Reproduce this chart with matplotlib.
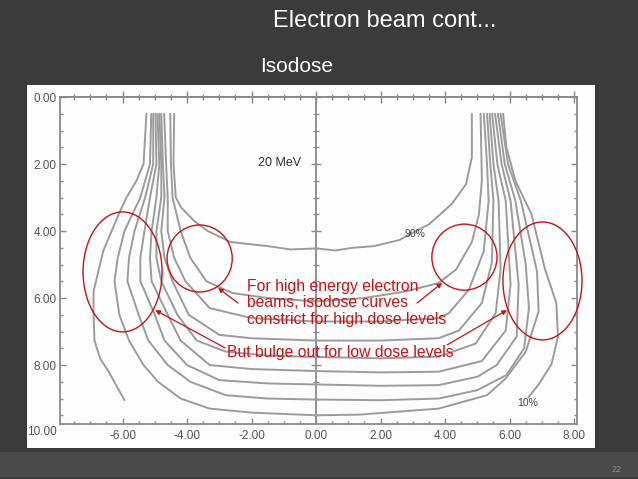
import matplotlib

matplotlib.use("Agg")
import matplotlib.pyplot as plt
from matplotlib.patches import Ellipse, Rectangle
from matplotlib.ticker import FormatStrFormatter, MultipleLocator

SLIDE_TITLE = "Electron beam cont..."
SLIDE_SUBTITLE = "Isodose"
PAGE_NUMBER = "22"
ENERGY_LABEL = "20 MeV"

X_TICKS = [-6, -4, -2, 0, 2, 4, 6, 8]
Y_TICKS = [0, 2, 4, 6, 8]
X_RANGE = (-7.94, 8.09)
Y_RANGE = (9.76, 0.0)

# isodose lines, (lateral position cm, depth cm), innermost (90%) first
CURVE_90 = [(-4.40, 0.5), (-4.42, 2.0), (-4.35, 3.0), (-4.18, 3.3), (-3.78, 3.7),
            (-3.36, 4.0), (-2.65, 4.33), (-1.5, 4.45), (-0.8, 4.55), (0.0, 4.52),
            (0.6, 4.58), (1.14, 4.5), (1.8, 4.45), (2.58, 4.27), (3.5, 3.8),
            (4.2, 3.2), (4.65, 2.6), (4.83, 1.8), (4.83, 0.5)]
CURVE_80 = [(-4.52, 0.5), (-4.5, 2.0), (-4.45, 3.0), (-4.2, 4.0), (-3.9, 4.8),
            (-3.4, 5.5), (-2.6, 5.85), (-1.5, 6.0), (0.0, 6.1), (1.5, 6.0),
            (2.8, 5.8), (3.8, 5.55), (4.34, 5.15), (4.83, 4.33), (5.05, 3.5),
            (5.14, 2.5), (5.1, 0.5)]
CURVE_70 = [(-4.71, 0.5), (-4.65, 2.0), (-4.6, 3.0), (-4.6, 4.0), (-4.4, 4.8),
            (-4.05, 5.5), (-3.3, 6.3), (-2.0, 6.6), (0.0, 6.7), (2.0, 6.7),
            (3.8, 6.6), (4.12, 6.45), (4.74, 5.75), (5.2, 4.6), (5.35, 3.1),
            (5.3, 2.0), (5.2, 0.5)]
CURVE_60 = [(-4.8, 0.5), (-4.75, 2.0), (-4.7, 3.0), (-4.8, 4.0), (-4.7, 4.8),
            (-4.45, 5.5), (-3.95, 6.5), (-3.0, 7.1), (-2.0, 7.2), (0.0, 7.27),
            (2.0, 7.27), (3.8, 7.2), (4.43, 6.97), (5.14, 6.15), (5.45, 4.94),
            (5.5, 3.1), (5.4, 2.0), (5.3, 0.5)]
CURVE_50 = [(-4.86, 0.5), (-4.8, 2.0), (-4.8, 3.0), (-4.95, 4.0), (-4.95, 4.8),
            (-4.8, 5.5), (-4.3, 6.5), (-3.7, 7.27), (-2.8, 7.6), (-1.5, 7.72),
            (0.0, 7.76), (2.0, 7.8), (3.8, 7.75), (4.95, 7.36), (5.57, 6.45),
            (5.72, 5.15), (5.66, 3.1), (5.5, 2.0), (5.38, 0.5)]
CURVE_40 = [(-4.92, 0.5), (-4.86, 2.0), (-4.95, 3.0), (-5.1, 4.0), (-5.15, 4.8),
            (-5.1, 5.5), (-4.6, 6.5), (-4.2, 7.27), (-3.3, 8.0), (-2.0, 8.12),
            (0.0, 8.18), (2.0, 8.22), (3.8, 8.2), (5.14, 7.88), (5.88, 6.97),
            (6.03, 5.6), (5.88, 3.1), (5.62, 2.0), (5.46, 0.5)]
CURVE_30 = [(-4.98, 0.5), (-4.95, 2.0), (-5.15, 3.0), (-5.32, 4.0), (-5.45, 4.8),
            (-5.45, 5.5), (-5.0, 6.5), (-4.7, 7.27), (-4.0, 8.0), (-3.0, 8.45),
            (-1.5, 8.55), (0.0, 8.58), (2.0, 8.62), (3.8, 8.6), (5.0, 8.35),
            (5.6, 8.0), (6.22, 7.15), (6.28, 5.6), (6.03, 3.1), (5.75, 2.0),
            (5.55, 0.5)]
CURVE_20 = [(-5.05, 0.5), (-5.05, 2.0), (-5.3, 3.0), (-5.63, 4.0), (-5.8, 4.8),
            (-5.85, 5.5), (-5.5, 6.5), (-5.2, 7.27), (-4.6, 8.0), (-3.9, 8.5),
            (-2.8, 8.9), (-1.5, 9.0), (0.0, 9.03), (2.0, 9.05), (3.8, 9.0),
            (5.0, 8.75), (5.9, 8.3), (6.45, 7.5), (6.6, 6.3), (6.5, 5.0),
            (6.18, 3.1), (5.85, 2.0), (5.64, 0.5)]
CURVE_15 = [(-5.11, 0.5), (-5.15, 2.0), (-5.45, 3.0), (-5.94, 4.0), (-6.15, 4.8),
            (-6.25, 5.5), (-6.1, 6.5), (-5.8, 7.27), (-5.35, 8.0), (-4.9, 8.5),
            (-4.2, 9.0), (-3.3, 9.3), (-2.0, 9.42), (0.0, 9.5), (1.35, 9.48),
            (3.8, 9.3), (5.3, 8.9), (5.88, 8.4), (6.5, 7.6), (6.9, 6.4),
            (6.85, 5.2), (6.35, 3.1), (5.95, 2.0), (5.72, 0.5)]
# the 10% line leaves the plot on both sides
CURVE_10_LEFT = [(-5.26, 0.5), (-5.35, 2.0), (-5.57, 2.5), (-5.88, 3.0), (-6.12, 3.5),
                 (-6.34, 4.0), (-6.6, 4.6), (-6.75, 5.2), (-6.9, 5.8), (-6.9, 6.5),
                 (-6.87, 7.27), (-6.7, 7.8), (-6.43, 8.2), (-5.94, 9.05)]
CURVE_10_RIGHT = [(5.8, 0.5), (5.9, 1.5), (6.18, 2.5), (6.68, 3.5), (7.1, 5.15),
                  (7.45, 6.15), (7.5, 7.15), (7.3, 7.97), (6.9, 8.58), (6.58, 8.97)]

CURVES = [CURVE_90, CURVE_80, CURVE_70, CURVE_60, CURVE_50, CURVE_40,
          CURVE_30, CURVE_20, CURVE_15, CURVE_10_LEFT, CURVE_10_RIGHT]

# red hand annotations on the slide: (x, depth, width, height)
CIRCLES = [(-6.0, 5.22, 2.45, 3.58), (-3.61, 4.82, 2.02, 2.0),
           (4.6, 4.78, 2.02, 1.97), (7.02, 5.49, 2.45, 3.52)]
ARROWS = [((-2.42, 6.15), (-3.04, 5.70)), ((3.13, 6.15), (3.91, 5.55)),
          ((-2.82, 7.49), (-4.99, 6.36)), ((4.06, 7.40), (5.92, 6.36))]
NOTE_HIGH = "For high energy electron\nbeams, isodose curves\nconstrict for high dose levels"
NOTE_LOW = "But bulge out for low dose levels"

BG = "#3b3b3b"
RED = "#c81414"
LINE_GRAY = "#9c9c9c"
AXIS_GRAY = "#8a8a8a"
LABEL_GRAY = "#555555"

plt.rcParams["font.family"] = ["Liberation Sans", "DejaVu Sans"]

W, H = 638, 479
fig = plt.figure(figsize=(W / 100, H / 100), dpi=100)
fig.patch.set_facecolor(BG)

# slide footer band and the white picture panel, behind the axes
fig.add_artist(Rectangle((0, 1 - 477 / H), 1, 25 / H, transform=fig.transFigure,
                         facecolor="#4a4a4a", edgecolor="none", zorder=-2))
fig.add_artist(Rectangle((27 / W, 1 - 448 / H), 568 / W, 363 / H,
                         transform=fig.transFigure, facecolor="#fdfdfd",
                         edgecolor="none", zorder=-1))

fig.text(273 / W, 1 - 27 / H, SLIDE_TITLE, color="white", fontsize=17, va="baseline")
fig.text(260 / W, 1 - 72 / H, SLIDE_SUBTITLE, color="white", fontsize=15, va="baseline")
fig.text(617 / W, 1 - 469 / H, PAGE_NUMBER, color="#8a8a8a", fontsize=6.5,
         ha="center", va="center")

ax = fig.add_axes([60 / W, 1 - 424 / H, 517 / W, 327 / H])
ax.set_facecolor("none")
ax.set_xlim(*X_RANGE)
ax.set_ylim(*Y_RANGE)

for curve in CURVES:
    xs = [p[0] for p in curve]
    ds = [p[1] for p in curve]
    ax.plot(xs, ds, color=LINE_GRAY, lw=1.4, solid_capstyle="round")

for spine in ax.spines.values():
    spine.set_color(AXIS_GRAY)
    spine.set_linewidth(1.3)

ax.set_xticks(X_TICKS)
ax.set_yticks(Y_TICKS)
ax.xaxis.set_minor_locator(MultipleLocator(0.5))
ax.yaxis.set_minor_locator(MultipleLocator(0.5))
ax.xaxis.set_major_formatter(FormatStrFormatter("%.2f"))
ax.yaxis.set_major_formatter(FormatStrFormatter("%.2f"))
ax.tick_params(which="both", direction="in", top=False, right=True,
               color=AXIS_GRAY, width=1.0, labelsize=8.5, labelcolor=LABEL_GRAY)
ax.tick_params(which="major", length=4.5)
ax.tick_params(which="minor", length=2.5)
ax.tick_params(axis="x", pad=4)
ax.tick_params(axis="y", pad=2.5)
ax.annotate("10.00", xy=(0, 10), xycoords=("axes fraction", "data"),
            xytext=(-2.5, 0), textcoords="offset points", ha="right", va="center",
            fontsize=8.5, color=LABEL_GRAY, annotation_clip=False)

# top edge ticks cross the frame
top = ax.secondary_xaxis("top")
top.set_xticks(X_TICKS)
top.xaxis.set_minor_locator(MultipleLocator(0.5))
top.tick_params(which="both", direction="inout", labeltop=False, color=AXIS_GRAY, width=1.0)
top.tick_params(which="major", length=8)
top.tick_params(which="minor", length=4)
top.spines["top"].set_color(AXIS_GRAY)
top.spines["top"].set_linewidth(1.3)

# central axis of the beam
zero_pos = (0 - X_RANGE[0]) / (X_RANGE[1] - X_RANGE[0])
mid = ax.secondary_yaxis(zero_pos)
mid.set_yticks(Y_TICKS)
mid.yaxis.set_minor_locator(MultipleLocator(0.5))
mid.tick_params(which="both", direction="inout", labelleft=False, labelright=False,
                color=AXIS_GRAY, width=1.0)
mid.tick_params(which="major", length=7)
mid.tick_params(which="minor", length=4)
for spine in mid.spines.values():
    spine.set_color(AXIS_GRAY)
    spine.set_linewidth(1.3)

ax.text(-1.12, 1.97, ENERGY_LABEL, fontsize=9, color="#333333", ha="center", va="center")
ax.text(3.07, 4.09, "90%", fontsize=7.5, color="#444444", ha="center", va="center")
ax.text(6.57, 9.13, "10%", fontsize=7.5, color="#444444", ha="center", va="center")

for cx, cd, w, h in CIRCLES:
    ax.add_patch(Ellipse((cx, cd), w, h, fill=False, edgecolor=RED, lw=1.0,
                         clip_on=False, zorder=4))

for tail, head in ARROWS:
    ax.annotate("", xy=head, xytext=tail,
                arrowprops=dict(arrowstyle="-|>", color=RED, lw=0.9,
                                mutation_scale=7, shrinkA=0, shrinkB=0),
                zorder=5)

ax.text(-2.14, 5.43, NOTE_HIGH, fontsize=11.3, color=RED, ha="left", va="top",
        linespacing=1.12, zorder=5)
ax.text(-2.76, 7.40, NOTE_LOW, fontsize=11.3, color=RED, ha="left", va="top", zorder=5)

fig.savefig("out.png", dpi=100, facecolor=fig.get_facecolor())
